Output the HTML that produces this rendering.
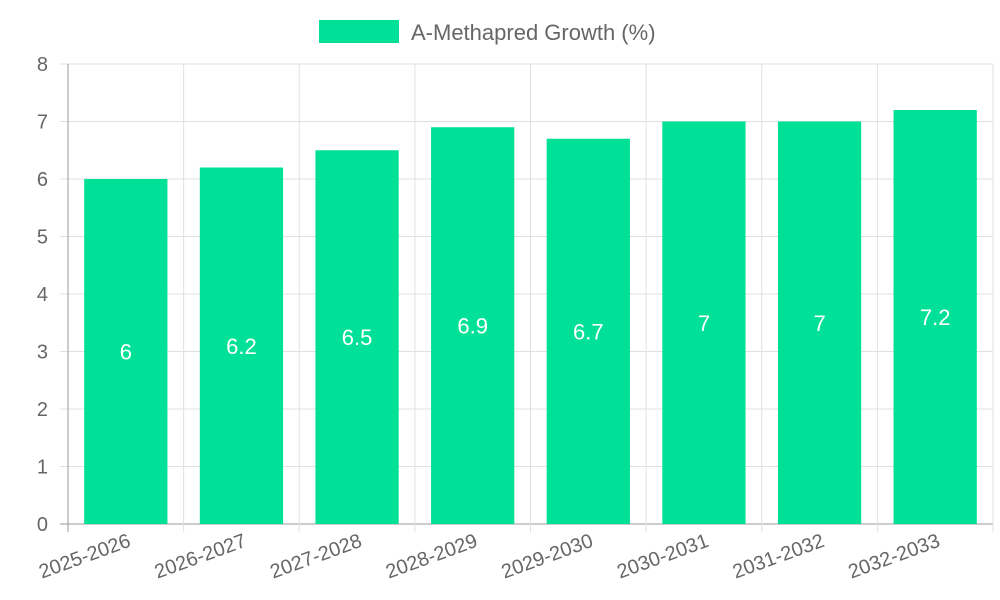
<!DOCTYPE html>
<html><head><meta charset="utf-8"><style>
body{margin:0;background:#fff}
svg{display:block;font-family:"Liberation Sans",sans-serif}
</style></head><body>
<svg id="chart" width="1000" height="600">
<g>
<rect x="319" y="20" width="80" height="23" fill="#00e096"/>
<text x="411" y="40" font-size="22" fill="#666">A-Methapred Growth (%)</text>
</g>
<g id="grid"></g><g id="bars"></g><g id="labels"></g>
</svg>
<script>
const categories=["2025-2026","2026-2027","2027-2028","2028-2029","2029-2030","2030-2031","2031-2032","2032-2033"];
const values=[6,6.2,6.5,6.9,6.7,7,7,7.2];
const yTicks=[0,1,2,3,4,5,6,7,8];
const NS="http://www.w3.org/2000/svg";
const L=68,R=993,T=64,B=524,yMax=8;
const bw=(R-L)/categories.length;
const y=v=>B-(v/yMax)*(B-T);
const x=i=>L+i*bw;
const grid=document.getElementById('grid'),bars=document.getElementById('bars'),labels=document.getElementById('labels');
function mk(tag,attrs,parent){const e=document.createElementNS(NS,tag);for(const k in attrs)e.setAttribute(k,attrs[k]);parent.appendChild(e);return e;}
yTicks.forEach(t=>{
 const ln=mk('line',{x1:L-8,x2:R,y1:y(t),y2:y(t),stroke:t===0?'#999':'#e0e0e0','stroke-width':1},grid);
 
 
 const tx=mk('text',{x:L-20,y:y(t)+7,'font-size':20,fill:'#666','text-anchor':'end'},grid);
 tx.textContent=t;
 
 
});
for(let i=0;i<=categories.length;i++){
 const ln=mk('line',{x1:x(i),x2:x(i),y1:T,y2:B+8,stroke:i===0?'#999':'#e0e0e0','stroke-width':1},grid);
 
 
}
categories.forEach((c,i)=>{
 const cx=x(i)+bw/2,w=bw*0.72;
 const r=mk('rect',{x:cx-w/2,y:y(values[i]),width:w,height:B-y(values[i]),fill:'#00e096'},bars);
 
 
 const v=mk('text',{x:cx,y:y(values[i]/2)+8,'font-size':22,fill:'#fff','text-anchor':'middle'},labels);
 v.textContent=values[i];
 
 
 const t=mk('text',{x:cx+6,y:B+22,'font-size':20,fill:'#666','text-anchor':'end',transform:`rotate(-20 ${cx+6} ${B+22})`},labels);
 t.textContent=c;
 
 
});
</script>
</body></html>
